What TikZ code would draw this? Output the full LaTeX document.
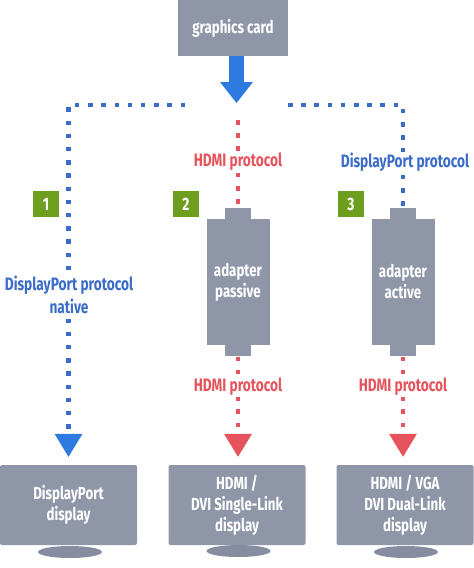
\documentclass[tikz,border=0pt]{standalone}
\usepackage{fontspec}
\setmainfont[FakeStretch=0.76]{Fira Sans}
\usetikzlibrary{arrows.meta,shapes.geometric}
\definecolor{boxgray}{HTML}{8F96A8}
\definecolor{standgray}{HTML}{868DA0}
\definecolor{arrowblue}{HTML}{2D7BE0}
\definecolor{dotblue}{HTML}{3A6CC8}
\definecolor{dotred}{HTML}{E5545C}
\definecolor{numgreen}{HTML}{6E9E1E}
\tikzset{
  graybox/.style={draw=none,fill=boxgray,text=white,font=\bfseries\fontsize{17.5}{21}\selectfont,align=center,inner sep=0pt},
  displaybox/.style={graybox,rounded corners=2pt,minimum width=137pt,minimum height=80pt},
  nub/.style={draw=none,fill=boxgray,minimum width=26pt,minimum height=11pt,inner sep=0pt},
  stand/.style={ellipse,draw=none,fill=standgray,minimum width=64pt,minimum height=12pt,inner sep=0pt},
  numbox/.style={draw=none,fill=numgreen,text=white,minimum width=26pt,minimum height=26pt,inner sep=0pt,font=\bfseries\fontsize{18}{18}\selectfont},
  dotline/.style={line width=4.5pt,dash pattern=on 4.5pt off 8.7pt},
  bluedot/.style={dotline,draw=dotblue},
  reddot/.style={dotline,draw=dotred},
  bluetip/.style={-{Triangle[width=28pt,length=23pt,line width=0pt,fill=arrowblue,color=arrowblue]},shorten >=8pt},
  redtip/.style={-{Triangle[width=28pt,length=23pt,line width=0pt,fill=dotred,color=dotred]},shorten >=8pt},
  bluelabel/.style={fill=white,text=dotblue,font=\bfseries\fontsize{18}{23}\selectfont,align=center,inner sep=1pt},
  redlabel/.style={fill=white,text=dotred,font=\bfseries\fontsize{18}{23}\selectfont,align=center,inner sep=1pt},
  bigarrow/.style={draw=arrowblue,line width=15pt,-{Triangle[width=33pt,length=21pt,line width=0pt,fill=arrowblue,color=arrowblue]}}
}
\begin{document}
\begin{tikzpicture}[x=1pt,y=-1pt]
\useasboundingbox (0,0) rectangle (474,568);
% graphics card
\node[graybox,minimum width=110pt,minimum height=56pt] (gc) at (233,28) {graphics card};
\coordinate (atip) at (236.5,103);
\draw[bigarrow] (atip |- gc.south) -- (atip);
% adapters
\node[graybox,minimum width=63pt,minimum height=126pt] (ad2) at (238,282) {adapter\\passive};
\node[nub,anchor=south] (ad2t) at (ad2.north) {};
\node[nub,anchor=north] (ad2b) at (ad2.south) {};
\node[graybox,minimum width=63pt,minimum height=126pt] (ad3) at (403,282) {adapter\\active};
\node[nub,anchor=south] (ad3t) at (ad3.north) {};
\node[nub,anchor=north] (ad3b) at (ad3.south) {};
% displays
\node[displaybox] (disp1) at (68.5,505) {DisplayPort\\display};
\node[displaybox] (disp2) at (237,505) {HDMI /\\DVI Single-Link\\display};
\node[displaybox] (disp3) at (405,505) {HDMI / VGA\\DVI Dual-Link\\display};
\node[stand] (st1) at (70,552) {};
\node[stand] (st2) at (238.5,551) {};
\node[stand] (st3) at (406,552) {};
% connectors
\coordinate (bl) at (185,105);
\coordinate (br) at (288,105);
\coordinate (rm) at (238,120);
\draw[bluedot,bluetip] (bl) -| (disp1.north);
\draw[bluedot] (br) -| (ad3t.north);
\draw[reddot] (rm) -- (ad2t.north);
\draw[reddot,redtip] (ad2b.south) -- (ad2b.south |- disp2.north);
\draw[reddot,redtip] (ad3b.south) -- (ad3b.south |- disp3.north);
% labels
\node[bluelabel] (l1) at (69,295) {DisplayPort protocol\\native};
\node[bluelabel] (l3) at (405,162) {DisplayPort protocol};
\node[redlabel] (l2) at (238,162) {HDMI protocol};
\node[redlabel] (l2b) at (238,387) {HDMI protocol};
\node[redlabel] (l3b) at (403,387) {HDMI protocol};
% numbers
\node[numbox] (n1) at (46,204) {1};
\node[numbox] (n2) at (186,204) {2};
\node[numbox] (n3) at (351,204) {3};
\end{tikzpicture}
\end{document}
